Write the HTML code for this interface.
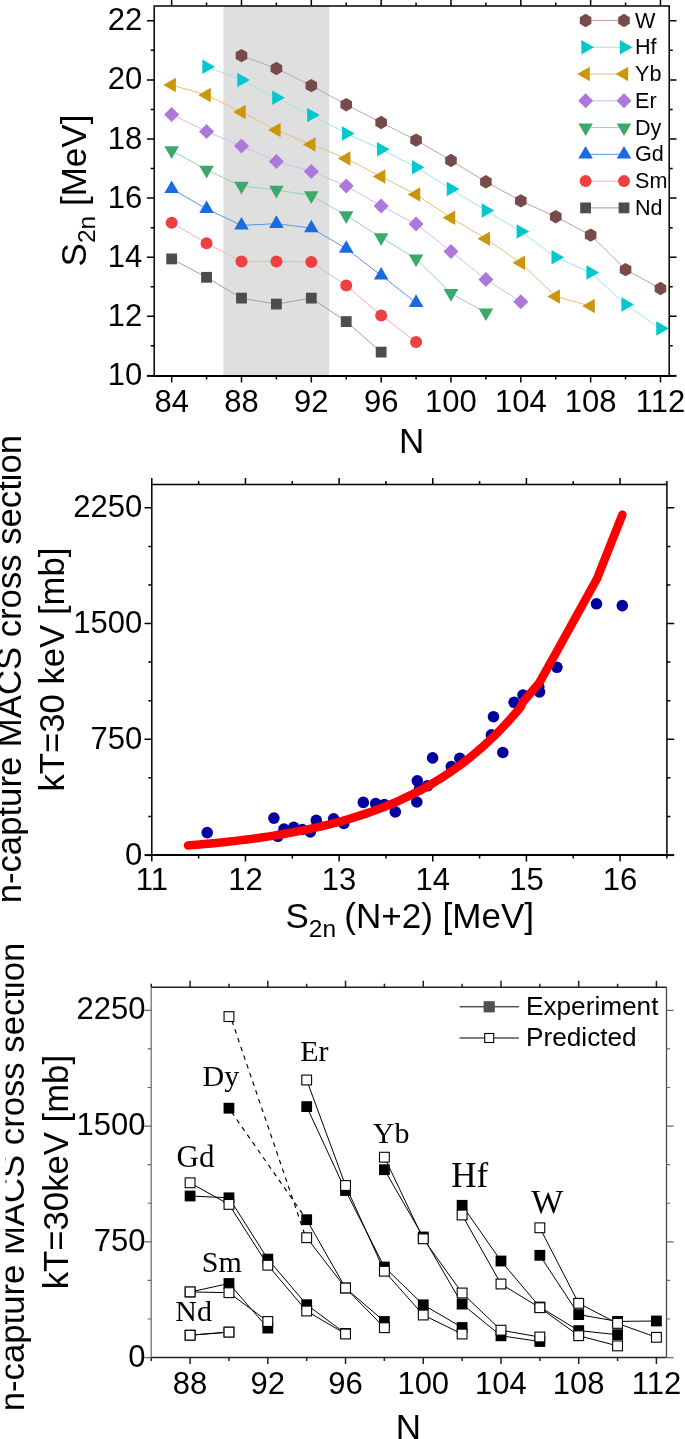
<!DOCTYPE html>
<html><head><meta charset="utf-8"><title>S2n and MACS plots</title>
<style>
html,body{margin:0;padding:0;background:#fff;}
body{width:685px;height:1439px;overflow:hidden;}
svg{display:block;}
svg text{font-family:'Liberation Sans', Arial, sans-serif;fill:#000;}
svg text.sf{font-family:'Liberation Serif', 'Times New Roman', serif;}
</style></head><body>
<svg width="685" height="1439" viewBox="0 0 685 1439">
<rect width="685" height="1439" fill="#fff"/>
<rect x="223.4" y="6" width="105.8" height="369.4" fill="#dfdfdf"/>
<polyline fill="none" stroke="#c3a3a3" stroke-width="1" points="241.49,55.6 276.4,68.5 311.32,85.6 346.23,104.7 381.15,122.5 416.06,140.1 450.98,160.5 485.89,181.8 520.81,200.9 555.73,216.7 590.64,235.1 625.56,269.6 660.47,288.5"/>
<polyline fill="none" stroke="#9fe6e8" stroke-width="1" points="206.57,66.7 241.49,80.1 276.4,97.7 311.32,115.1 346.23,133.4 381.15,149.3 416.06,167.2 450.98,189 485.89,210.6 520.81,231.6 555.73,257.3 590.64,272.5 625.56,304.6 660.47,328.6"/>
<polyline fill="none" stroke="#e2c27a" stroke-width="1" points="171.66,85.1 206.57,95 241.49,111.9 276.4,130 311.32,144.4 346.23,158.5 381.15,176.6 416.06,194.5 450.98,217.8 485.89,238.7 520.81,262.8 555.73,296.4 590.64,306.1"/>
<polyline fill="none" stroke="#d6baef" stroke-width="1" points="171.66,114.4 206.57,131.5 241.49,146.1 276.4,161.5 311.32,171.4 346.23,186 381.15,206 416.06,224 450.98,251.4 485.89,279.4 520.81,301.7"/>
<polyline fill="none" stroke="#98d4b0" stroke-width="1" points="171.66,150.5 206.57,170 241.49,186 276.4,190 311.32,195.5 346.23,215.5 381.15,237.5 416.06,258.8 450.98,293.3 485.89,312.6"/>
<polyline fill="none" stroke="#5a94ea" stroke-width="1" points="171.66,188.9 206.57,208.8 241.49,225.4 276.4,223.7 311.32,228.1 346.23,248.6 381.15,275.4 416.06,302.7"/>
<polyline fill="none" stroke="#f6b0b0" stroke-width="1" points="171.66,222.7 206.57,243.3 241.49,261.4 276.4,261.4 311.32,261.9 346.23,285.6 381.15,315.4 416.06,341.9"/>
<polyline fill="none" stroke="#a0a0a0" stroke-width="1" points="171.66,258.9 206.57,277.3 241.49,298.1 276.4,304.1 311.32,298.1 346.23,321.6 381.15,352.1"/>
<polygon points="241.49,62.3 235.69,58.95 235.69,52.25 241.49,48.9 247.29,52.25 247.29,58.95" fill="#794a4a"/>
<polygon points="276.4,75.2 270.6,71.85 270.6,65.15 276.4,61.8 282.21,65.15 282.21,71.85" fill="#794a4a"/>
<polygon points="311.32,92.3 305.52,88.95 305.52,82.25 311.32,78.9 317.12,82.25 317.12,88.95" fill="#794a4a"/>
<polygon points="346.23,111.4 340.43,108.05 340.43,101.35 346.23,98 352.04,101.35 352.04,108.05" fill="#794a4a"/>
<polygon points="381.15,129.2 375.35,125.85 375.35,119.15 381.15,115.8 386.95,119.15 386.95,125.85" fill="#794a4a"/>
<polygon points="416.06,146.8 410.26,143.45 410.26,136.75 416.06,133.4 421.87,136.75 421.87,143.45" fill="#794a4a"/>
<polygon points="450.98,167.2 445.18,163.85 445.18,157.15 450.98,153.8 456.78,157.15 456.78,163.85" fill="#794a4a"/>
<polygon points="485.89,188.5 480.09,185.15 480.09,178.45 485.89,175.1 491.7,178.45 491.7,185.15" fill="#794a4a"/>
<polygon points="520.81,207.6 515.01,204.25 515.01,197.55 520.81,194.2 526.61,197.55 526.61,204.25" fill="#794a4a"/>
<polygon points="555.73,223.4 549.92,220.05 549.92,213.35 555.73,210 561.53,213.35 561.53,220.05" fill="#794a4a"/>
<polygon points="590.64,241.8 584.84,238.45 584.84,231.75 590.64,228.4 596.44,231.75 596.44,238.45" fill="#794a4a"/>
<polygon points="625.56,276.3 619.75,272.95 619.75,266.25 625.56,262.9 631.36,266.25 631.36,272.95" fill="#794a4a"/>
<polygon points="660.47,295.2 654.67,291.85 654.67,285.15 660.47,281.8 666.27,285.15 666.27,291.85" fill="#794a4a"/>
<polygon points="214.97,66.7 202.37,73.97 202.37,59.43" fill="#00c8cc"/>
<polygon points="249.89,80.1 237.29,87.37 237.29,72.83" fill="#00c8cc"/>
<polygon points="284.8,97.7 272.2,104.97 272.2,90.43" fill="#00c8cc"/>
<polygon points="319.72,115.1 307.12,122.37 307.12,107.83" fill="#00c8cc"/>
<polygon points="354.63,133.4 342.03,140.67 342.03,126.13" fill="#00c8cc"/>
<polygon points="389.55,149.3 376.95,156.57 376.95,142.03" fill="#00c8cc"/>
<polygon points="424.46,167.2 411.86,174.47 411.86,159.93" fill="#00c8cc"/>
<polygon points="459.38,189 446.78,196.27 446.78,181.73" fill="#00c8cc"/>
<polygon points="494.29,210.6 481.69,217.87 481.69,203.33" fill="#00c8cc"/>
<polygon points="529.21,231.6 516.61,238.87 516.61,224.33" fill="#00c8cc"/>
<polygon points="564.13,257.3 551.53,264.57 551.53,250.03" fill="#00c8cc"/>
<polygon points="599.04,272.5 586.44,279.77 586.44,265.23" fill="#00c8cc"/>
<polygon points="633.96,304.6 621.36,311.87 621.36,297.33" fill="#00c8cc"/>
<polygon points="668.87,328.6 656.27,335.87 656.27,321.33" fill="#00c8cc"/>
<polygon points="163.26,85.1 175.86,77.83 175.86,92.37" fill="#c9960c"/>
<polygon points="198.17,95 210.77,87.73 210.77,102.27" fill="#c9960c"/>
<polygon points="233.09,111.9 245.69,104.63 245.69,119.17" fill="#c9960c"/>
<polygon points="268,130 280.6,122.73 280.6,137.27" fill="#c9960c"/>
<polygon points="302.92,144.4 315.52,137.13 315.52,151.67" fill="#c9960c"/>
<polygon points="337.83,158.5 350.43,151.23 350.43,165.77" fill="#c9960c"/>
<polygon points="372.75,176.6 385.35,169.33 385.35,183.87" fill="#c9960c"/>
<polygon points="407.66,194.5 420.26,187.23 420.26,201.77" fill="#c9960c"/>
<polygon points="442.58,217.8 455.18,210.53 455.18,225.07" fill="#c9960c"/>
<polygon points="477.49,238.7 490.09,231.43 490.09,245.97" fill="#c9960c"/>
<polygon points="512.41,262.8 525.01,255.53 525.01,270.07" fill="#c9960c"/>
<polygon points="547.33,296.4 559.93,289.13 559.93,303.67" fill="#c9960c"/>
<polygon points="582.24,306.1 594.84,298.83 594.84,313.37" fill="#c9960c"/>
<polygon points="171.66,106.9 179.16,114.4 171.66,121.9 164.16,114.4" fill="#ad78dc"/>
<polygon points="206.57,124 214.07,131.5 206.57,139 199.07,131.5" fill="#ad78dc"/>
<polygon points="241.49,138.6 248.99,146.1 241.49,153.6 233.99,146.1" fill="#ad78dc"/>
<polygon points="276.4,154 283.9,161.5 276.4,169 268.9,161.5" fill="#ad78dc"/>
<polygon points="311.32,163.9 318.82,171.4 311.32,178.9 303.82,171.4" fill="#ad78dc"/>
<polygon points="346.23,178.5 353.73,186 346.23,193.5 338.73,186" fill="#ad78dc"/>
<polygon points="381.15,198.5 388.65,206 381.15,213.5 373.65,206" fill="#ad78dc"/>
<polygon points="416.06,216.5 423.56,224 416.06,231.5 408.56,224" fill="#ad78dc"/>
<polygon points="450.98,243.9 458.48,251.4 450.98,258.9 443.48,251.4" fill="#ad78dc"/>
<polygon points="485.89,271.9 493.39,279.4 485.89,286.9 478.39,279.4" fill="#ad78dc"/>
<polygon points="520.81,294.2 528.31,301.7 520.81,309.2 513.31,301.7" fill="#ad78dc"/>
<polygon points="171.66,158.9 164.38,146.3 178.93,146.3" fill="#3aa96a"/>
<polygon points="206.57,178.4 199.3,165.8 213.85,165.8" fill="#3aa96a"/>
<polygon points="241.49,194.4 234.21,181.8 248.76,181.8" fill="#3aa96a"/>
<polygon points="276.4,198.4 269.13,185.8 283.68,185.8" fill="#3aa96a"/>
<polygon points="311.32,203.9 304.04,191.3 318.59,191.3" fill="#3aa96a"/>
<polygon points="346.23,223.9 338.96,211.3 353.51,211.3" fill="#3aa96a"/>
<polygon points="381.15,245.9 373.87,233.3 388.42,233.3" fill="#3aa96a"/>
<polygon points="416.06,267.2 408.79,254.6 423.34,254.6" fill="#3aa96a"/>
<polygon points="450.98,301.7 443.71,289.1 458.25,289.1" fill="#3aa96a"/>
<polygon points="485.89,321 478.62,308.4 493.17,308.4" fill="#3aa96a"/>
<polygon points="171.66,180.5 178.93,193.1 164.38,193.1" fill="#1a6be0"/>
<polygon points="206.57,200.4 213.85,213 199.3,213" fill="#1a6be0"/>
<polygon points="241.49,217 248.76,229.6 234.21,229.6" fill="#1a6be0"/>
<polygon points="276.4,215.3 283.68,227.9 269.13,227.9" fill="#1a6be0"/>
<polygon points="311.32,219.7 318.59,232.3 304.04,232.3" fill="#1a6be0"/>
<polygon points="346.23,240.2 353.51,252.8 338.96,252.8" fill="#1a6be0"/>
<polygon points="381.15,267 388.42,279.6 373.87,279.6" fill="#1a6be0"/>
<polygon points="416.06,294.3 423.34,306.9 408.79,306.9" fill="#1a6be0"/>
<circle cx="171.66" cy="222.7" r="6" fill="#ee4040"/>
<circle cx="206.57" cy="243.3" r="6" fill="#ee4040"/>
<circle cx="241.49" cy="261.4" r="6" fill="#ee4040"/>
<circle cx="276.4" cy="261.4" r="6" fill="#ee4040"/>
<circle cx="311.32" cy="261.9" r="6" fill="#ee4040"/>
<circle cx="346.23" cy="285.6" r="6" fill="#ee4040"/>
<circle cx="381.15" cy="315.4" r="6" fill="#ee4040"/>
<circle cx="416.06" cy="341.9" r="6" fill="#ee4040"/>
<rect x="166.26" y="253.5" width="10.8" height="10.8" fill="#4d4d4d"/>
<rect x="201.17" y="271.9" width="10.8" height="10.8" fill="#4d4d4d"/>
<rect x="236.09" y="292.7" width="10.8" height="10.8" fill="#4d4d4d"/>
<rect x="271" y="298.7" width="10.8" height="10.8" fill="#4d4d4d"/>
<rect x="305.92" y="292.7" width="10.8" height="10.8" fill="#4d4d4d"/>
<rect x="340.83" y="316.2" width="10.8" height="10.8" fill="#4d4d4d"/>
<rect x="375.75" y="346.7" width="10.8" height="10.8" fill="#4d4d4d"/>
<line x1="585.6" y1="20.5" x2="624" y2="20.5" stroke="#c3a3a3" stroke-width="1"/>
<polygon points="585.6,27.2 579.8,23.85 579.8,17.15 585.6,13.8 591.4,17.15 591.4,23.85" fill="#794a4a"/>
<polygon points="624,27.2 618.2,23.85 618.2,17.15 624,13.8 629.8,17.15 629.8,23.85" fill="#794a4a"/>
<text x="635" y="27.6" font-size="21.6">W</text>
<line x1="585.6" y1="47.27" x2="624" y2="47.27" stroke="#9fe6e8" stroke-width="1"/>
<polygon points="594,47.27 581.4,54.54 581.4,40" fill="#00c8cc"/>
<polygon points="632.4,47.27 619.8,54.54 619.8,40" fill="#00c8cc"/>
<text x="635" y="54.37" font-size="21.6">Hf</text>
<line x1="585.6" y1="74.04" x2="624" y2="74.04" stroke="#e2c27a" stroke-width="1"/>
<polygon points="577.2,74.04 589.8,66.77 589.8,81.31" fill="#c9960c"/>
<polygon points="615.6,74.04 628.2,66.77 628.2,81.31" fill="#c9960c"/>
<text x="635" y="81.14" font-size="21.6">Yb</text>
<line x1="585.6" y1="100.81" x2="624" y2="100.81" stroke="#d6baef" stroke-width="1"/>
<polygon points="585.6,93.31 593.1,100.81 585.6,108.31 578.1,100.81" fill="#ad78dc"/>
<polygon points="624,93.31 631.5,100.81 624,108.31 616.5,100.81" fill="#ad78dc"/>
<text x="635" y="107.91" font-size="21.6">Er</text>
<line x1="585.6" y1="127.58" x2="624" y2="127.58" stroke="#98d4b0" stroke-width="1"/>
<polygon points="585.6,135.98 578.33,123.38 592.87,123.38" fill="#3aa96a"/>
<polygon points="624,135.98 616.73,123.38 631.27,123.38" fill="#3aa96a"/>
<text x="635" y="134.68" font-size="21.6">Dy</text>
<line x1="585.6" y1="154.35" x2="624" y2="154.35" stroke="#5a94ea" stroke-width="1"/>
<polygon points="585.6,145.95 592.87,158.55 578.33,158.55" fill="#1a6be0"/>
<polygon points="624,145.95 631.27,158.55 616.73,158.55" fill="#1a6be0"/>
<text x="635" y="161.45" font-size="21.6">Gd</text>
<line x1="585.6" y1="181.12" x2="624" y2="181.12" stroke="#f6b0b0" stroke-width="1"/>
<circle cx="585.6" cy="181.12" r="6" fill="#ee4040"/>
<circle cx="624" cy="181.12" r="6" fill="#ee4040"/>
<text x="635" y="188.22" font-size="21.6">Sm</text>
<line x1="585.6" y1="207.89" x2="624" y2="207.89" stroke="#a0a0a0" stroke-width="1"/>
<rect x="580.2" y="202.49" width="10.8" height="10.8" fill="#4d4d4d"/>
<rect x="618.6" y="202.49" width="10.8" height="10.8" fill="#4d4d4d"/>
<text x="635" y="214.99" font-size="21.6">Nd</text>
<path d="M154.2 375.9H154.2V6H669.2" fill="none" stroke="#000" stroke-width="1.5"/>
<path d="M669.2 5.25V375.9" fill="none" stroke="#000" stroke-width="1.5"/>
<path d="M153.45 375.9H669.95" fill="none" stroke="#000" stroke-width="2"/>
<path d="M146.9 375.9H154.2" stroke="#000" stroke-width="2" fill="none"/>
<path d="M669.2 375.9H676.5" stroke="#000" stroke-width="2" fill="none"/>
<path d="M171.66 375.9V382.4M171.66 6V-0.5M241.49 375.9V382.4M241.49 6V-0.5M311.32 375.9V382.4M311.32 6V-0.5M381.15 375.9V382.4M381.15 6V-0.5M450.98 375.9V382.4M450.98 6V-0.5M520.81 375.9V382.4M520.81 6V-0.5M590.64 375.9V382.4M590.64 6V-0.5M660.47 375.9V382.4M660.47 6V-0.5M206.57 375.9V379.4M206.57 6V2.5M276.4 375.9V379.4M276.4 6V2.5M346.23 375.9V379.4M346.23 6V2.5M416.06 375.9V379.4M416.06 6V2.5M485.89 375.9V379.4M485.89 6V2.5M555.73 375.9V379.4M555.73 6V2.5M625.56 375.9V379.4M625.56 6V2.5M154.2 316.3H146.9M669.2 316.3H676.5M154.2 257.19H146.9M669.2 257.19H676.5M154.2 198.09H146.9M669.2 198.09H676.5M154.2 138.98H146.9M669.2 138.98H676.5M154.2 79.88H146.9M669.2 79.88H676.5M154.2 20.78H146.9M669.2 20.78H676.5M154.2 345.85H150.7M669.2 345.85H672.7M154.2 286.74H150.7M669.2 286.74H672.7M154.2 227.64H150.7M669.2 227.64H672.7M154.2 168.54H150.7M669.2 168.54H672.7M154.2 109.43H150.7M669.2 109.43H672.7M154.2 50.33H150.7M669.2 50.33H672.7" stroke="#000" stroke-width="1.5" fill="none"/>
<text x="142.3" y="385" font-size="31" text-anchor="end">10</text>
<text x="142.3" y="325.9" font-size="31" text-anchor="end">12</text>
<text x="142.3" y="266.79" font-size="31" text-anchor="end">14</text>
<text x="142.3" y="207.69" font-size="31" text-anchor="end">16</text>
<text x="142.3" y="148.58" font-size="31" text-anchor="end">18</text>
<text x="142.3" y="89.48" font-size="31" text-anchor="end">20</text>
<text x="142.3" y="30.38" font-size="31" text-anchor="end">22</text>
<text x="171.66" y="411.7" font-size="31" text-anchor="middle">84</text>
<text x="241.49" y="411.7" font-size="31" text-anchor="middle">88</text>
<text x="311.32" y="411.7" font-size="31" text-anchor="middle">92</text>
<text x="381.15" y="411.7" font-size="31" text-anchor="middle">96</text>
<text x="450.98" y="411.7" font-size="31" text-anchor="middle">100</text>
<text x="520.81" y="411.7" font-size="31" text-anchor="middle">104</text>
<text x="590.64" y="411.7" font-size="31" text-anchor="middle">108</text>
<text x="660.47" y="411.7" font-size="31" text-anchor="middle">112</text>
<text x="411.7" y="453.2" font-size="35" text-anchor="middle">N</text>
<text transform="translate(86.1 190.5) rotate(-90)" font-size="35" text-anchor="middle">S<tspan font-size="24.5" dy="8.5">2n</tspan><tspan dy="-8.5"> [MeV]</tspan></text>
<circle cx="207.2" cy="832.6" r="5.8" fill="#00009e"/>
<circle cx="273.9" cy="818.1" r="5.8" fill="#00009e"/>
<circle cx="277.9" cy="836.3" r="5.8" fill="#00009e"/>
<circle cx="284" cy="829" r="5.8" fill="#00009e"/>
<circle cx="293.7" cy="827.4" r="5.8" fill="#00009e"/>
<circle cx="302.3" cy="829.5" r="5.8" fill="#00009e"/>
<circle cx="310.3" cy="832" r="5.8" fill="#00009e"/>
<circle cx="316.3" cy="820.4" r="5.8" fill="#00009e"/>
<circle cx="333.6" cy="818.8" r="5.8" fill="#00009e"/>
<circle cx="343.8" cy="823.5" r="5.8" fill="#00009e"/>
<circle cx="363.3" cy="802.4" r="5.8" fill="#00009e"/>
<circle cx="375.7" cy="803.5" r="5.8" fill="#00009e"/>
<circle cx="384.3" cy="804.6" r="5.8" fill="#00009e"/>
<circle cx="395.3" cy="811.9" r="5.8" fill="#00009e"/>
<circle cx="416.8" cy="802" r="5.8" fill="#00009e"/>
<circle cx="417.3" cy="780.8" r="5.8" fill="#00009e"/>
<circle cx="419.4" cy="789.2" r="5.8" fill="#00009e"/>
<circle cx="427.6" cy="785.8" r="5.8" fill="#00009e"/>
<circle cx="432.6" cy="757.9" r="5.8" fill="#00009e"/>
<circle cx="451.3" cy="766.6" r="5.8" fill="#00009e"/>
<circle cx="459.8" cy="758.3" r="5.8" fill="#00009e"/>
<circle cx="491.4" cy="734.9" r="5.8" fill="#00009e"/>
<circle cx="493.5" cy="716.7" r="5.8" fill="#00009e"/>
<circle cx="502.8" cy="752.5" r="5.8" fill="#00009e"/>
<circle cx="514.1" cy="702.3" r="5.8" fill="#00009e"/>
<circle cx="523" cy="695" r="5.8" fill="#00009e"/>
<circle cx="538.8" cy="686.8" r="5.8" fill="#00009e"/>
<circle cx="539.5" cy="692" r="5.8" fill="#00009e"/>
<circle cx="556.9" cy="667.3" r="5.8" fill="#00009e"/>
<circle cx="596.5" cy="603.8" r="5.8" fill="#00009e"/>
<circle cx="622.3" cy="605.6" r="5.8" fill="#00009e"/>
<polyline fill="none" stroke="#ff0000" stroke-width="8.5" stroke-linecap="round" stroke-linejoin="round" points="187.95,845.43 192.63,845.06 197.32,844.67 202,844.26 206.68,843.84 211.36,843.4 216.05,842.94 220.73,842.47 225.41,841.98 230.1,841.46 234.78,840.93 239.46,840.38 244.14,839.81 248.83,839.21 253.51,838.59 258.19,837.94 262.87,837.27 267.56,836.58 272.24,835.85 276.92,835.1 281.61,834.32 286.29,833.5 290.97,832.66 295.65,831.78 300.34,830.87 305.02,829.92 309.7,828.93 314.38,827.91 319.07,826.84 323.75,825.74 328.43,824.59 333.12,823.39 337.8,822.15 342.48,820.86 347.16,819.52 351.85,818.12 356.53,816.67 361.21,815.17 365.89,813.6 370.58,811.97 375.26,810.28 379.94,808.53 384.63,806.7 389.31,804.8 393.99,802.83 398.67,800.78 403.36,798.65 408.04,796.43 412.72,794.13 417.4,791.74 422.09,789.25 426.77,786.67 431.45,783.98 436.14,781.19 440.82,778.29 445.5,775.27 450.18,772.14 454.87,768.88 459.55,765.5 464.23,761.98 468.91,758.33 473.6,754.53 478.28,750.58 482.96,746.47 487.65,742.21 492.33,737.77 497.01,733.17 501.69,728.38 506.38,723.4 511.06,718.23 515.74,712.85 520.42,707.27 523,702 539.5,682.4 556.9,651.2 597.1,578.5 622.4,514.6"/>
<path d="M151.8 855.1H151.8V484.4H666.9" fill="none" stroke="#000" stroke-width="1.5"/>
<path d="M666.9 483.65V855.1" fill="none" stroke="#000" stroke-width="1.5"/>
<path d="M151.05 855.1H667.65" fill="none" stroke="#000" stroke-width="2"/>
<path d="M144.5 855.1H151.8" stroke="#000" stroke-width="2" fill="none"/>
<path d="M666.9 855.1H674.2" stroke="#000" stroke-width="2" fill="none"/>
<path d="M151.8 855.1V861.6M151.8 484.4V477.9M245.45 855.1V861.6M245.45 484.4V477.9M339.11 855.1V861.6M339.11 484.4V477.9M432.76 855.1V861.6M432.76 484.4V477.9M526.42 855.1V861.6M526.42 484.4V477.9M620.07 855.1V861.6M620.07 484.4V477.9M198.63 855.1V858.6M198.63 484.4V480.9M292.28 855.1V858.6M292.28 484.4V480.9M385.94 855.1V858.6M385.94 484.4V480.9M479.59 855.1V858.6M479.59 484.4V480.9M573.25 855.1V858.6M573.25 484.4V480.9M666.9 855.1V858.6M666.9 484.4V480.9M151.8 739.27H144.5M666.9 739.27H674.2M151.8 623.53H144.5M666.9 623.53H674.2M151.8 507.8H144.5M666.9 507.8H674.2M151.8 816.42H148.3M666.9 816.42H670.4M151.8 777.84H148.3M666.9 777.84H670.4M151.8 700.69H148.3M666.9 700.69H670.4M151.8 662.11H148.3M666.9 662.11H670.4M151.8 584.96H148.3M666.9 584.96H670.4M151.8 546.38H148.3M666.9 546.38H670.4" stroke="#000" stroke-width="1.5" fill="none"/>
<text x="142.3" y="864.6" font-size="31" text-anchor="end">0</text>
<text x="142.3" y="748.87" font-size="31" text-anchor="end">750</text>
<text x="142.3" y="633.13" font-size="31" text-anchor="end">1500</text>
<text x="142.3" y="517.4" font-size="31" text-anchor="end">2250</text>
<text x="151.8" y="890.3" font-size="31" text-anchor="middle">11</text>
<text x="245.45" y="890.3" font-size="31" text-anchor="middle">12</text>
<text x="339.11" y="890.3" font-size="31" text-anchor="middle">13</text>
<text x="432.76" y="890.3" font-size="31" text-anchor="middle">14</text>
<text x="526.42" y="890.3" font-size="31" text-anchor="middle">15</text>
<text x="620.07" y="890.3" font-size="31" text-anchor="middle">16</text>
<text x="285.5" y="928" font-size="35">S<tspan font-size="24.5" dy="8.5">2n</tspan><tspan dy="-8.5" dx="-1.5"> (N+2) [MeV]</tspan></text>
<text transform="translate(20.9 669.1) rotate(-90)" font-size="34.7" text-anchor="middle">n-capture MACS cross section</text>
<text transform="translate(64.3 669.6) rotate(-90)" font-size="34.7" text-anchor="middle">kT=30 keV [mb]</text>
<line x1="190.1" y1="1196" x2="228.96" y2="1197.8" stroke="#000" stroke-width="1"/>
<line x1="228.96" y1="1197.8" x2="267.82" y2="1259.1" stroke="#000" stroke-width="1"/>
<line x1="267.82" y1="1259.1" x2="306.68" y2="1304.7" stroke="#000" stroke-width="1"/>
<line x1="306.68" y1="1304.7" x2="345.54" y2="1333.5" stroke="#000" stroke-width="1"/>
<rect x="184.7" y="1190.6" width="10.8" height="10.8" fill="#000"/>
<rect x="223.56" y="1192.4" width="10.8" height="10.8" fill="#000"/>
<rect x="262.42" y="1253.7" width="10.8" height="10.8" fill="#000"/>
<rect x="301.28" y="1299.3" width="10.8" height="10.8" fill="#000"/>
<rect x="340.14" y="1328.1" width="10.8" height="10.8" fill="#000"/>
<line x1="190.1" y1="1292" x2="228.96" y2="1283.5" stroke="#000" stroke-width="1"/>
<line x1="228.96" y1="1283.5" x2="267.82" y2="1328.1" stroke="#000" stroke-width="1"/>
<rect x="184.7" y="1286.6" width="10.8" height="10.8" fill="#000"/>
<rect x="223.56" y="1278.1" width="10.8" height="10.8" fill="#000"/>
<rect x="262.42" y="1322.7" width="10.8" height="10.8" fill="#000"/>
<line x1="190.1" y1="1335.2" x2="228.96" y2="1332.1" stroke="#000" stroke-width="1"/>
<rect x="184.7" y="1329.8" width="10.8" height="10.8" fill="#000"/>
<rect x="223.56" y="1326.7" width="10.8" height="10.8" fill="#000"/>
<line x1="231.46" y1="1112" x2="306.68" y2="1219.7" stroke="#000" stroke-width="1.15" stroke-dasharray="4.6,4.6"/>
<line x1="306.68" y1="1219.7" x2="345.54" y2="1288" stroke="#000" stroke-width="1"/>
<line x1="345.54" y1="1288" x2="384.4" y2="1321.5" stroke="#000" stroke-width="1"/>
<rect x="223.56" y="1102.8" width="10.8" height="10.8" fill="#000"/>
<rect x="301.28" y="1214.3" width="10.8" height="10.8" fill="#000"/>
<rect x="340.14" y="1282.6" width="10.8" height="10.8" fill="#000"/>
<rect x="379" y="1316.1" width="10.8" height="10.8" fill="#000"/>
<line x1="306.68" y1="1106.6" x2="345.54" y2="1190.5" stroke="#000" stroke-width="1"/>
<line x1="345.54" y1="1190.5" x2="384.4" y2="1267" stroke="#000" stroke-width="1"/>
<line x1="384.4" y1="1267" x2="423.26" y2="1304.8" stroke="#000" stroke-width="1"/>
<line x1="423.26" y1="1304.8" x2="462.12" y2="1327.5" stroke="#000" stroke-width="1"/>
<rect x="301.28" y="1101.2" width="10.8" height="10.8" fill="#000"/>
<rect x="340.14" y="1185.1" width="10.8" height="10.8" fill="#000"/>
<rect x="379" y="1261.6" width="10.8" height="10.8" fill="#000"/>
<rect x="417.86" y="1299.4" width="10.8" height="10.8" fill="#000"/>
<rect x="456.72" y="1322.1" width="10.8" height="10.8" fill="#000"/>
<line x1="384.4" y1="1169.7" x2="423.26" y2="1237" stroke="#000" stroke-width="1"/>
<line x1="423.26" y1="1237" x2="462.12" y2="1304.1" stroke="#000" stroke-width="1"/>
<line x1="462.12" y1="1304.1" x2="500.98" y2="1335.8" stroke="#000" stroke-width="1"/>
<line x1="500.98" y1="1335.8" x2="539.84" y2="1341.5" stroke="#000" stroke-width="1"/>
<rect x="379" y="1164.3" width="10.8" height="10.8" fill="#000"/>
<rect x="417.86" y="1231.6" width="10.8" height="10.8" fill="#000"/>
<rect x="456.72" y="1298.7" width="10.8" height="10.8" fill="#000"/>
<rect x="495.58" y="1330.4" width="10.8" height="10.8" fill="#000"/>
<rect x="534.44" y="1336.1" width="10.8" height="10.8" fill="#000"/>
<line x1="462.12" y1="1205.3" x2="500.98" y2="1261" stroke="#000" stroke-width="1"/>
<line x1="500.98" y1="1261" x2="539.84" y2="1307" stroke="#000" stroke-width="1"/>
<line x1="539.84" y1="1307" x2="578.7" y2="1330.6" stroke="#000" stroke-width="1"/>
<line x1="578.7" y1="1330.6" x2="617.56" y2="1334.7" stroke="#000" stroke-width="1"/>
<rect x="456.72" y="1199.9" width="10.8" height="10.8" fill="#000"/>
<rect x="495.58" y="1255.6" width="10.8" height="10.8" fill="#000"/>
<rect x="534.44" y="1301.6" width="10.8" height="10.8" fill="#000"/>
<rect x="573.3" y="1325.2" width="10.8" height="10.8" fill="#000"/>
<rect x="612.16" y="1329.3" width="10.8" height="10.8" fill="#000"/>
<line x1="539.84" y1="1255.3" x2="578.7" y2="1314.6" stroke="#000" stroke-width="1"/>
<line x1="578.7" y1="1314.6" x2="617.56" y2="1321.4" stroke="#000" stroke-width="1"/>
<line x1="617.56" y1="1321.4" x2="656.42" y2="1321" stroke="#000" stroke-width="1"/>
<rect x="534.44" y="1249.9" width="10.8" height="10.8" fill="#000"/>
<rect x="573.3" y="1309.2" width="10.8" height="10.8" fill="#000"/>
<rect x="612.16" y="1316" width="10.8" height="10.8" fill="#000"/>
<rect x="651.02" y="1315.6" width="10.8" height="10.8" fill="#000"/>
<line x1="190.1" y1="1182.8" x2="228.96" y2="1204.4" stroke="#000" stroke-width="1"/>
<line x1="228.96" y1="1204.4" x2="267.82" y2="1265.2" stroke="#000" stroke-width="1"/>
<line x1="267.82" y1="1265.2" x2="306.68" y2="1311" stroke="#000" stroke-width="1"/>
<line x1="306.68" y1="1311" x2="345.54" y2="1334" stroke="#000" stroke-width="1"/>
<rect x="185.2" y="1177.9" width="9.8" height="9.8" fill="#fff" stroke="#000" stroke-width="1.1"/>
<rect x="224.06" y="1199.5" width="9.8" height="9.8" fill="#fff" stroke="#000" stroke-width="1.1"/>
<rect x="262.92" y="1260.3" width="9.8" height="9.8" fill="#fff" stroke="#000" stroke-width="1.1"/>
<rect x="301.78" y="1306.1" width="9.8" height="9.8" fill="#fff" stroke="#000" stroke-width="1.1"/>
<rect x="340.64" y="1329.1" width="9.8" height="9.8" fill="#fff" stroke="#000" stroke-width="1.1"/>
<line x1="190.1" y1="1291.9" x2="228.96" y2="1292.7" stroke="#000" stroke-width="1"/>
<line x1="228.96" y1="1292.7" x2="267.82" y2="1321.5" stroke="#000" stroke-width="1"/>
<rect x="185.2" y="1287" width="9.8" height="9.8" fill="#fff" stroke="#000" stroke-width="1.1"/>
<rect x="224.06" y="1287.8" width="9.8" height="9.8" fill="#fff" stroke="#000" stroke-width="1.1"/>
<rect x="262.92" y="1316.6" width="9.8" height="9.8" fill="#fff" stroke="#000" stroke-width="1.1"/>
<line x1="190.1" y1="1335.2" x2="228.96" y2="1332.1" stroke="#000" stroke-width="1"/>
<rect x="185.2" y="1330.3" width="9.8" height="9.8" fill="#fff" stroke="#000" stroke-width="1.1"/>
<rect x="224.06" y="1327.2" width="9.8" height="9.8" fill="#fff" stroke="#000" stroke-width="1.1"/>
<line x1="231.9" y1="1020.6" x2="305.9" y2="1237.7" stroke="#000" stroke-width="1.15" stroke-dasharray="4.6,4.6"/>
<line x1="306.68" y1="1237.7" x2="345.54" y2="1288" stroke="#000" stroke-width="1"/>
<line x1="345.54" y1="1288" x2="384.4" y2="1327.7" stroke="#000" stroke-width="1"/>
<rect x="224.06" y="1011.7" width="9.8" height="9.8" fill="#fff" stroke="#000" stroke-width="1.1"/>
<rect x="301.78" y="1232.8" width="9.8" height="9.8" fill="#fff" stroke="#000" stroke-width="1.1"/>
<rect x="340.64" y="1283.1" width="9.8" height="9.8" fill="#fff" stroke="#000" stroke-width="1.1"/>
<rect x="379.5" y="1322.8" width="9.8" height="9.8" fill="#fff" stroke="#000" stroke-width="1.1"/>
<line x1="306.68" y1="1080" x2="345.54" y2="1185.5" stroke="#000" stroke-width="1"/>
<line x1="345.54" y1="1185.5" x2="384.4" y2="1271.2" stroke="#000" stroke-width="1"/>
<line x1="384.4" y1="1271.2" x2="423.26" y2="1315" stroke="#000" stroke-width="1"/>
<line x1="423.26" y1="1315" x2="462.12" y2="1334" stroke="#000" stroke-width="1"/>
<rect x="301.78" y="1075.1" width="9.8" height="9.8" fill="#fff" stroke="#000" stroke-width="1.1"/>
<rect x="340.64" y="1180.6" width="9.8" height="9.8" fill="#fff" stroke="#000" stroke-width="1.1"/>
<rect x="379.5" y="1266.3" width="9.8" height="9.8" fill="#fff" stroke="#000" stroke-width="1.1"/>
<rect x="418.36" y="1310.1" width="9.8" height="9.8" fill="#fff" stroke="#000" stroke-width="1.1"/>
<rect x="457.22" y="1329.1" width="9.8" height="9.8" fill="#fff" stroke="#000" stroke-width="1.1"/>
<line x1="384.4" y1="1157.2" x2="423.26" y2="1238.8" stroke="#000" stroke-width="1"/>
<line x1="423.26" y1="1238.8" x2="462.12" y2="1293" stroke="#000" stroke-width="1"/>
<line x1="462.12" y1="1293" x2="500.98" y2="1330.2" stroke="#000" stroke-width="1"/>
<line x1="500.98" y1="1330.2" x2="539.84" y2="1337" stroke="#000" stroke-width="1"/>
<rect x="379.5" y="1152.3" width="9.8" height="9.8" fill="#fff" stroke="#000" stroke-width="1.1"/>
<rect x="418.36" y="1233.9" width="9.8" height="9.8" fill="#fff" stroke="#000" stroke-width="1.1"/>
<rect x="457.22" y="1288.1" width="9.8" height="9.8" fill="#fff" stroke="#000" stroke-width="1.1"/>
<rect x="496.08" y="1325.3" width="9.8" height="9.8" fill="#fff" stroke="#000" stroke-width="1.1"/>
<rect x="534.94" y="1332.1" width="9.8" height="9.8" fill="#fff" stroke="#000" stroke-width="1.1"/>
<line x1="462.12" y1="1215" x2="500.98" y2="1284" stroke="#000" stroke-width="1"/>
<line x1="500.98" y1="1284" x2="539.84" y2="1307.7" stroke="#000" stroke-width="1"/>
<line x1="539.84" y1="1307.7" x2="578.7" y2="1335.7" stroke="#000" stroke-width="1"/>
<line x1="578.7" y1="1335.7" x2="617.56" y2="1345.9" stroke="#000" stroke-width="1"/>
<rect x="457.22" y="1210.1" width="9.8" height="9.8" fill="#fff" stroke="#000" stroke-width="1.1"/>
<rect x="496.08" y="1279.1" width="9.8" height="9.8" fill="#fff" stroke="#000" stroke-width="1.1"/>
<rect x="534.94" y="1302.8" width="9.8" height="9.8" fill="#fff" stroke="#000" stroke-width="1.1"/>
<rect x="573.8" y="1330.8" width="9.8" height="9.8" fill="#fff" stroke="#000" stroke-width="1.1"/>
<rect x="612.66" y="1341" width="9.8" height="9.8" fill="#fff" stroke="#000" stroke-width="1.1"/>
<line x1="539.84" y1="1227.8" x2="578.7" y2="1303.3" stroke="#000" stroke-width="1"/>
<line x1="578.7" y1="1303.3" x2="617.56" y2="1323.4" stroke="#000" stroke-width="1"/>
<line x1="617.56" y1="1323.4" x2="656.42" y2="1337.3" stroke="#000" stroke-width="1"/>
<rect x="534.94" y="1222.9" width="9.8" height="9.8" fill="#fff" stroke="#000" stroke-width="1.1"/>
<rect x="573.8" y="1298.4" width="9.8" height="9.8" fill="#fff" stroke="#000" stroke-width="1.1"/>
<rect x="612.66" y="1318.5" width="9.8" height="9.8" fill="#fff" stroke="#000" stroke-width="1.1"/>
<rect x="651.52" y="1332.4" width="9.8" height="9.8" fill="#fff" stroke="#000" stroke-width="1.1"/>
<text x="176.5" y="1166.5" class="sf" font-size="31">Gd</text>
<text x="202.5" y="1086.2" class="sf" font-size="30">Dy</text>
<text x="300.2" y="1061.4" class="sf" font-size="30">Er</text>
<text x="372.8" y="1142.6" class="sf" font-size="30">Yb</text>
<text x="451.3" y="1187.3" class="sf" font-size="35">Hf</text>
<text x="531.3" y="1212.6" class="sf" font-size="34">W</text>
<text x="201.8" y="1272.2" class="sf" font-size="30">Sm</text>
<text x="175.3" y="1321.3" class="sf" font-size="30">Nd</text>
<line x1="459.6" y1="1006.8" x2="519" y2="1006.8" stroke="#000" stroke-width="1"/>
<rect x="483.6" y="1001.2" width="11.2" height="11.2" fill="#505050"/>
<text x="526" y="1014.5" font-size="26.2">Experiment</text>
<line x1="459.6" y1="1038" x2="519" y2="1038" stroke="#000" stroke-width="1"/>
<rect x="484.7" y="1033.5" width="9" height="9" fill="#fff" stroke="#000" stroke-width="1.1"/>
<text x="526" y="1046" font-size="26.2">Predicted</text>
<line x1="151.2" y1="987.2" x2="666.5" y2="987.2" stroke="#222" stroke-width="1.5"/>
<line x1="151.2" y1="1357.6" x2="666.5" y2="1357.6" stroke="#222" stroke-width="1.5"/>
<line x1="151.2" y1="987.2" x2="151.2" y2="1357.6" stroke="#666" stroke-width="1.2"/>
<line x1="666.5" y1="987.2" x2="666.5" y2="1357.6" stroke="#404040" stroke-width="1.2"/>
<path d="M151.24 1357.6V1361.1M151.24 987.2V983.7M190.1 1357.6V1364.1M190.1 987.2V980.7M228.96 1357.6V1361.1M228.96 987.2V983.7M267.82 1357.6V1364.1M267.82 987.2V980.7M306.68 1357.6V1361.1M306.68 987.2V983.7M345.54 1357.6V1364.1M345.54 987.2V980.7M384.4 1357.6V1361.1M384.4 987.2V983.7M423.26 1357.6V1364.1M423.26 987.2V980.7M462.12 1357.6V1361.1M462.12 987.2V983.7M500.98 1357.6V1364.1M500.98 987.2V980.7M539.84 1357.6V1361.1M539.84 987.2V983.7M578.7 1357.6V1364.1M578.7 987.2V980.7M617.56 1357.6V1361.1M617.56 987.2V983.7M656.42 1357.6V1364.1M656.42 987.2V980.7" stroke="#222" stroke-width="1.5" fill="none"/>
<path d="M151.2 1357.6H144.2M666.5 1357.6H673.5M151.2 1319.01H147.7M666.5 1319.01H670M151.2 1280.42H147.7M666.5 1280.42H670M151.2 1241.83H144.2M666.5 1241.83H673.5M151.2 1203.24H147.7M666.5 1203.24H670M151.2 1164.66H147.7M666.5 1164.66H670M151.2 1126.07H144.2M666.5 1126.07H673.5M151.2 1087.48H147.7M666.5 1087.48H670M151.2 1048.89H147.7M666.5 1048.89H670M151.2 1010.3H144.2M666.5 1010.3H673.5" stroke="#666" stroke-width="1.2" fill="none"/>
<text x="145.5" y="1366.6" font-size="31" text-anchor="end">0</text>
<text x="145.5" y="1250.83" font-size="31" text-anchor="end">750</text>
<text x="145.5" y="1135.07" font-size="31" text-anchor="end">1500</text>
<text x="145.5" y="1019.3" font-size="31" text-anchor="end">2250</text>
<text x="190.1" y="1393.6" font-size="31" text-anchor="middle">88</text>
<text x="267.82" y="1393.6" font-size="31" text-anchor="middle">92</text>
<text x="345.54" y="1393.6" font-size="31" text-anchor="middle">96</text>
<text x="423.26" y="1393.6" font-size="31" text-anchor="middle">100</text>
<text x="500.98" y="1393.6" font-size="31" text-anchor="middle">104</text>
<text x="578.7" y="1393.6" font-size="31" text-anchor="middle">108</text>
<text x="656.42" y="1393.6" font-size="31" text-anchor="middle">112</text>
<text x="408.4" y="1438.6" font-size="35" text-anchor="middle">N</text>
<text transform="translate(23.9 1177) rotate(-90)" font-size="34.7" text-anchor="middle">n-capture MACS cross section</text>
<text transform="translate(68.1 1172.1) rotate(-90)" font-size="34.7" text-anchor="middle">kT=30keV [mb]</text>
<rect x="0" y="935" width="5.5" height="504" fill="#fff"/>
</svg>
</body></html>
